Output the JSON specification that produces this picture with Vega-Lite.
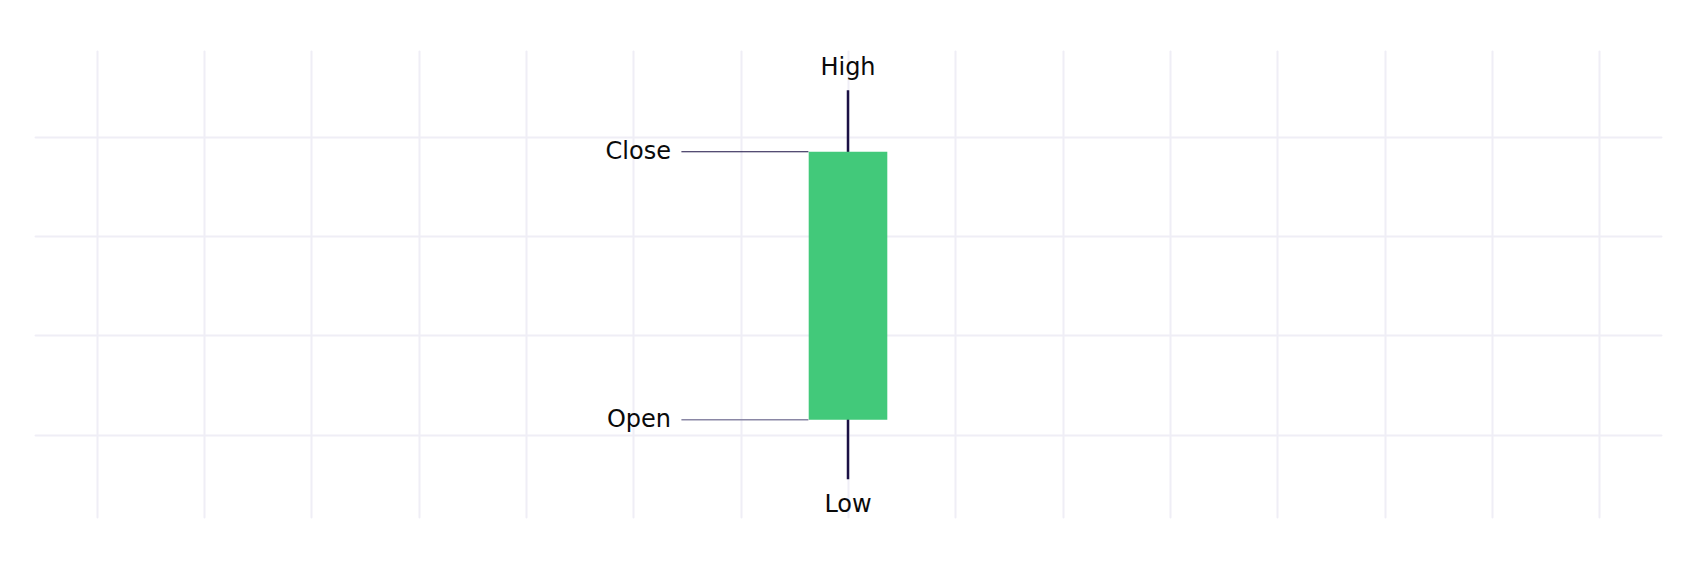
{
  "$schema": "https://vega.github.io/schema/vega-lite/v6.json",
  "width": 1626,
  "height": 466,
  "autosize": {"type": "none"},
  "padding": {"left": 35, "top": 51, "right": 35, "bottom": 54},
  "background": "#ffffff",
  "config": {
    "view": {"stroke": null},
    "text": {"font": "DejaVu Sans", "fontSize": 24, "color": "#0a0a0a"}
  },
  "datasets": {
    "candle": [
      {"t": 7, "open": 101.5, "high": 134.7, "low": 95.5, "close": 128.5}
    ],
    "labels": [
      {"label": "High", "t": 7, "price": 134.7},
      {"label": "Close", "t": 7, "price": 128.5},
      {"label": "Open", "t": 7, "price": 101.5},
      {"label": "Low", "t": 7, "price": 95.5}
    ]
  },
  "encoding": {
    "x": {
      "field": "t",
      "type": "quantitative",
      "scale": {"domain": [-0.575, 14.575], "nice": false, "zero": false, "padding": 0},
      "axis": {
        "values": [0, 1, 2, 3, 4, 5, 6, 7, 8, 9, 10, 11, 12, 13, 14],
        "grid": true,
        "gridColor": "#efeef6",
        "gridWidth": 2,
        "gridCap": "round",
        "labels": false,
        "ticks": false,
        "domain": false,
        "title": null
      }
    }
  },
  "layer": [
    {
      "data": {"name": "candle"},
      "mark": {"type": "rule", "color": "#1b1145", "strokeWidth": 2.5},
      "encoding": {
        "y": {
          "field": "low",
          "type": "quantitative",
          "scale": {"domain": [91.7, 138.65], "nice": false, "zero": false, "padding": 0},
          "axis": {
            "values": [100, 110, 120, 130],
            "grid": true,
            "gridColor": "#efeef6",
            "gridWidth": 2,
            "gridCap": "round",
            "labels": false,
            "ticks": false,
            "domain": false,
            "title": null
          }
        },
        "y2": {"field": "high"}
      }
    },
    {
      "data": {"name": "candle"},
      "mark": {"type": "bar", "color": "#42c97a", "width": 78.6},
      "encoding": {
        "y": {"field": "open", "type": "quantitative"},
        "y2": {"field": "close"}
      }
    },
    {
      "data": {"name": "labels"},
      "transform": [{"filter": "datum.label == 'Close' || datum.label == 'Open'"}],
      "mark": {"type": "rule", "xOffset": -166.6, "x2Offset": -39.6},
      "encoding": {
        "x2": {"field": "t"},
        "y": {"field": "price", "type": "quantitative"},
        "color": {
          "field": "label",
          "type": "nominal",
          "scale": {"domain": ["Close", "Open"], "range": ["#1b1145", "#8a87a5"]},
          "legend": null
        },
        "size": {
          "field": "label",
          "type": "nominal",
          "scale": {"domain": ["Close", "Open"], "range": [1.2, 1.6]},
          "legend": null
        }
      }
    },
    {
      "data": {"name": "labels"},
      "transform": [{"filter": "datum.label == 'Close' || datum.label == 'Open'"}],
      "mark": {"type": "text", "align": "right", "baseline": "alphabetic", "dx": -177, "dy": 7.5},
      "encoding": {
        "y": {"field": "price", "type": "quantitative"},
        "text": {"field": "label"}
      }
    },
    {
      "data": {"name": "labels"},
      "transform": [{"filter": "datum.label == 'High'"}],
      "mark": {"type": "text", "align": "center", "baseline": "alphabetic", "dy": -15},
      "encoding": {
        "y": {"field": "price", "type": "quantitative"},
        "text": {"field": "label"}
      }
    },
    {
      "data": {"name": "labels"},
      "transform": [{"filter": "datum.label == 'Low'"}],
      "mark": {"type": "text", "align": "center", "baseline": "alphabetic", "dy": 33},
      "encoding": {
        "y": {"field": "price", "type": "quantitative"},
        "text": {"field": "label"}
      }
    }
  ]
}
